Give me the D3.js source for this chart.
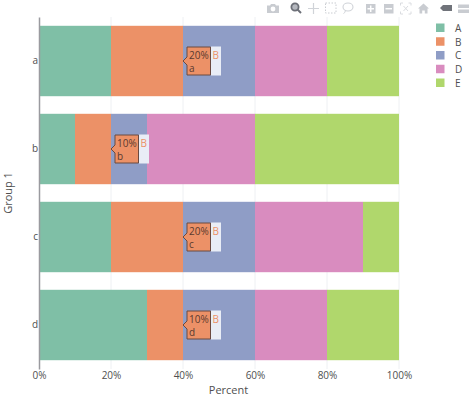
<!DOCTYPE html>
<html>
<head>
<meta charset="utf-8">
<script src="https://cdn.jsdelivr.net/npm/d3@7"></script>
<style>
  html, body { margin: 0; padding: 0; background: #fff; }
  text { font-family: "Open Sans", sans-serif; }
</style>
</head>
<body>
<div id="chart"></div>
<script>
const groups = ['a', 'b', 'c', 'd'];
const keys = ['A', 'B', 'C', 'D', 'E'];
const valuesA = [20, 10, 20, 30];
const valuesB = [20, 10, 20, 10];
const valuesC = [20, 10, 20, 20];
const valuesD = [20, 30, 30, 20];
const valuesE = [20, 40, 10, 20];
const xTicks = [0, 20, 40, 60, 80, 100];
const colors = ['#7fbfa6', '#ec9167', '#8f9dc6', '#d98cbf', '#b0d76c'];

const rows = groups.map((g, i) => ({
  group: g, A: valuesA[i], B: valuesB[i], C: valuesC[i], D: valuesD[i], E: valuesE[i]
}));
const dataset = d3.stack().keys(keys)(rows);

const width = 474, height = 396;
const margin = { top: 17, left: 39, right: 75, bottom: 27 };
const textColor = '#4f4f4f';

const svg = d3.select('#chart').append('svg')
  .attr('width', width)
  .attr('height', height)
  .style('display', 'block');

const x = d3.scaleLinear().domain([0, 100]).range([margin.left, width - margin.right]);
const y = d3.scaleBand().domain(groups)
  .range([margin.top, height - margin.bottom])
  .paddingInner(0.2).paddingOuter(0.1);

// gridlines
svg.append('g').selectAll('line')
  .data(xTicks.slice(1))
  .join('line')
  .attr('x1', d => x(d)).attr('x2', d => x(d))
  .attr('y1', margin.top).attr('y2', height - margin.bottom)
  .attr('stroke', '#eef0f3');

// bars
svg.selectAll('g.series')
  .data(dataset)
  .join('g')
  .attr('class', 'series')
  .attr('fill', (d, i) => colors[i])
  .selectAll('rect')
  .data(d => d)
  .join('rect')
  .attr('x', d => x(d[0]))
  .attr('y', d => y(d.data.group))
  .attr('width', d => x(d[1]) - x(d[0]))
  .attr('height', y.bandwidth());

// axes
const xAxis = svg.append('g')
  .attr('transform', 'translate(0,' + (height - margin.bottom) + ')')
  .call(d3.axisBottom(x).tickValues(xTicks).tickFormat(d => d + '%').tickSize(0).tickPadding(2.5));
xAxis.select('.domain').remove();
xAxis.selectAll('text').attr('font-size', 10).attr('fill', textColor);

const yAxis = svg.append('g')
  .attr('transform', 'translate(' + margin.left + ',0)')
  .call(d3.axisLeft(y).tickSize(0).tickPadding(1));
yAxis.select('.domain').attr('stroke', '#9a9a9f').attr('stroke-width', 1.5);
yAxis.selectAll('text').attr('font-size', 10).attr('fill', textColor);

svg.append('text')
  .attr('x', 228.5).attr('y', 394)
  .attr('text-anchor', 'middle')
  .attr('font-size', 11)
  .attr('fill', textColor)
  .text('Percent');

svg.append('text')
  .attr('transform', 'translate(12,193) rotate(-90)')
  .attr('text-anchor', 'middle')
  .attr('font-size', 11)
  .attr('fill', textColor)
  .text('Group 1');

// hover labels on series B
const seriesB = dataset[1];
const hover = svg.selectAll('g.hover')
  .data(seriesB)
  .join('g')
  .attr('class', 'hover')
  .attr('transform', d => 'translate(' + x(d[1]) + ',' + (y(d.data.group) + y.bandwidth() / 2) + ')');

hover.append('rect')
  .attr('x', 28).attr('y', -14.5)
  .attr('width', 10).attr('height', 29)
  .attr('fill', '#e9edf6');

hover.append('path')
  .attr('d', 'M0,0 L4,-4 V-14 H27.5 V14 H4 V4 Z')
  .attr('fill', colors[1])
  .attr('stroke', '#6b4a40')
  .attr('stroke-width', 1);

hover.append('text')
  .attr('x', 6).attr('y', -2)
  .attr('font-size', 10)
  .attr('fill', '#5a3a2e')
  .text(d => (d[1] - d[0]) + '%');

hover.append('text')
  .attr('x', 6).attr('y', 11)
  .attr('font-size', 10)
  .attr('fill', '#5a3a2e')
  .text(d => d.data.group);

hover.append('text')
  .attr('x', 29.5).attr('y', -2)
  .attr('font-size', 10)
  .attr('fill', colors[1])
  .text('B');

// legend
const legend = svg.selectAll('g.legend')
  .data(keys)
  .join('g')
  .attr('class', 'legend')
  .attr('transform', (d, i) => 'translate(436,' + (23.5 + i * 13.75) + ')');

legend.append('rect')
  .attr('width', 8.5).attr('height', 8.5)
  .attr('fill', (d, i) => colors[i]);

legend.append('text')
  .attr('x', 19).attr('y', 8.3)
  .attr('font-size', 10)
  .attr('fill', textColor)
  .text(d => d);

// modebar
const bar = svg.append('g').attr('fill', '#c9ccd1').attr('stroke', 'none');

// camera
bar.append('path').attr('d', 'M267,5.5 H270 L271,4 H275 L276,5.5 H279 V13 H267 Z');
bar.append('circle').attr('cx', 273).attr('cy', 9).attr('r', 2.4).attr('fill', '#fff');
// zoom (active)
bar.append('circle').attr('cx', 295).attr('cy', 7).attr('r', 3.6)
  .attr('fill', '#b5b8bf').attr('stroke', '#6d7078').attr('stroke-width', 1.8);
bar.append('line').attr('x1', 297.5).attr('y1', 9.5).attr('x2', 301).attr('y2', 13)
  .attr('stroke', '#6d7078').attr('stroke-width', 2);
// pan
bar.append('path').attr('d', 'M313.5,3 V14 M308,8.5 H319').attr('stroke', '#d0d3d8').attr('stroke-width', 1.2);
// box select
bar.append('rect').attr('x', 325.5).attr('y', 3).attr('width', 10.5).attr('height', 10)
  .attr('fill', 'none').attr('stroke', '#c9ccd1').attr('stroke-dasharray', '1.5,1.5');
// lasso
bar.append('ellipse').attr('cx', 348).attr('cy', 7).attr('rx', 5).attr('ry', 4)
  .attr('fill', 'none').attr('stroke', '#d0d3d8').attr('stroke-width', 1.1);
bar.append('path').attr('d', 'M345.5,10.5 Q345,13 343.5,13.5').attr('fill', 'none').attr('stroke', '#d0d3d8');
// zoom in
bar.append('rect').attr('x', 366).attr('y', 4).attr('width', 9.5).attr('height', 9.5);
bar.append('path').attr('d', 'M370.7,5.5 V12 M367.5,8.7 H374').attr('stroke', '#fff').attr('stroke-width', 1.5);
// zoom out
bar.append('rect').attr('x', 384).attr('y', 4).attr('width', 9.5).attr('height', 9.5);
bar.append('path').attr('d', 'M385.5,8.7 H392').attr('stroke', '#fff').attr('stroke-width', 1.5);
// autoscale
bar.append('path')
  .attr('d', 'M400.5,5.5 V3 H403 M408.5,3 H411 V5.5 M411,11.5 V14 H408.5 M403,14 H400.5 V11.5 M403.5,6 L408,11 M408,6 L403.5,11')
  .attr('fill', 'none').attr('stroke', '#dadce0');
// home
bar.append('path').attr('d', 'M418,8.5 L423.5,3.5 L429,8.5 H427.5 V13.5 H424.8 V10.5 H422.2 V13.5 H419.5 V8.5 Z');
// spike lines
bar.append('path').attr('d', 'M440,8 L443,5 H452 V11 H443 Z').attr('fill', '#70737a');
// compare
bar.append('rect').attr('x', 458).attr('y', 4.5).attr('width', 11).attr('height', 3.5);
bar.append('rect').attr('x', 458).attr('y', 9.5).attr('width', 11).attr('height', 3.5);
</script>
</body>
</html>
